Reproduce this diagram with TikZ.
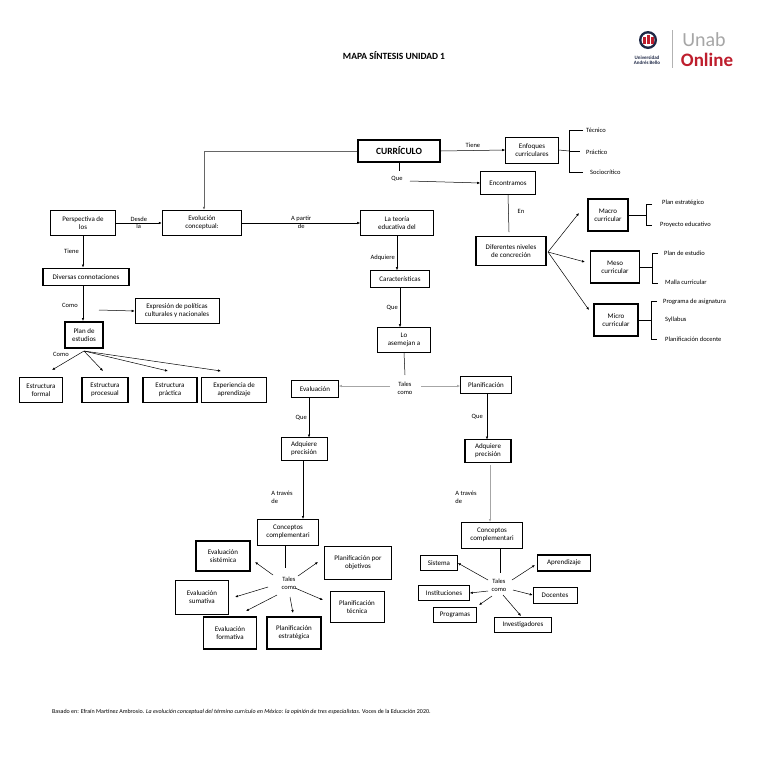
\documentclass[tikz,border=0pt]{standalone}
\usepackage{fontspec}
\setmainfont{Carlito}
\usetikzlibrary{arrows.meta}
\definecolor{unabred}{RGB}{190,30,45}
\definecolor{unabnavy}{RGB}{30,40,70}
\begin{document}
\begin{tikzpicture}[x=1pt,y=-1pt,
  bx/.style={draw,line width=0.6pt,align=center,font=\fontsize{7}{8}\selectfont,inner sep=1pt},
  tb/.style={bx,line width=1.4pt},
  lb/.style={align=center,font=\fontsize{6.5}{8}\selectfont,inner sep=0pt},
  wl/.style={lb,anchor=west},
  ar/.style={-{Latex[length=3pt,width=2.5pt]},line width=0.5pt},
  gar/.style={ar,draw=gray!70,line width=1pt},
  ln/.style={line width=0.5pt}]
\useasboundingbox (0,0) rectangle (768,756);
\fill[white] (0,0) rectangle (768,756);
\node[font=\bfseries\fontsize{9.5}{10}\selectfont] (title) at (394,56) {MAPA SÍNTESIS UNIDAD 1};
% logo
\fill[unabnavy] (648,40) circle (9pt);
\fill[white] (648,40) circle (6.5pt);
\fill[unabred] (643,37) rectangle (646,44);
\fill[unabred] (647,35) rectangle (650,44);
\fill[unabred] (651,37) rectangle (654,44);
\node[font=\bfseries\fontsize{5}{5}\selectfont,align=center,text=unabnavy,inner sep=0] (uni) at (647,60) {Universidad\\Andrés Bello};
\draw[gray!60,line width=0.6pt] (672,30) -- (672,68);
\node[font=\fontsize{20}{20}\selectfont,text=gray!70,inner sep=0] (unab) at (704,40) {Unab};
\node[font=\bfseries\fontsize{19}{19}\selectfont,text=unabred,inner sep=0] (online) at (707,60) {Online};
% top
\node[tb,minimum width=82pt,minimum height=22pt,font=\bfseries\fontsize{9.5}{10}\selectfont] (cur) at (399,151) {CURRÍCULO};
\node[bx,minimum width=53pt,minimum height=26pt] (enf) at (532,150) {Enfoques\\curriculares};
\draw[ar] (cur.east) -- node[lb,above=3pt]{Tiene} (enf.west);
\draw[ln] (enf.east) -- (569,151);
\draw[ln] (583,130) -- (569,130) -- (569,172) -- (583,172);
\draw[ln] (569,151) -- (580,151);
\node[wl] (tec) at (586,130) {Técnico};
\node[wl] (pra) at (586,152) {Práctico};
\node[wl] (soc) at (590,172) {Sociocrítico};
\node[bx,minimum width=55pt,minimum height=23pt] (enc) at (508,183) {Encontramos};
\draw[ln] (cur.south) -- (399,171);
\node[lb] (que1) at (397,179) {Que};
\coordinate (q1) at (410,181);
\draw[ar] (q1) -- (enc.west);
\node[tb,minimum width=70pt,minimum height=29pt] (dif) at (511,251) {Diferentes niveles\\de concreción};
\draw[ln] (enc.south) -- (509,232);
\node[lb] (en) at (521,211) {En};
\node[tb,minimum width=40pt,minimum height=32pt] (mac) at (608,215) {Macro\\curricular};
\node[tb,minimum width=49pt,minimum height=32pt] (mes) at (615,267) {Meso\\curricular};
\node[tb,minimum width=44pt,minimum height=32pt] (mic) at (616,320) {Micro\\curricular};
\coordinate (dh) at (548,252);
\draw[ar] (dh) -- (579,213);
\draw[ar] (dh) -- (585,262);
\draw[ar] (dh) -- (589,310);
\draw[ln] (mac.east) -- (646,215); \draw[ln] (652,204) -- (646,204) -- (646,225) -- (652,225);
\node[wl] (m1) at (662,203) {Plan estratégico};
\node[wl] (m2) at (660,225) {Proyecto educativo};
\draw[ln] (mes.east) -- (652,267); \draw[ln] (658,253) -- (652,253) -- (652,283) -- (658,283);
\node[wl] (m3) at (664,253) {Plan de estudio};
\node[wl] (m4) at (665,282) {Malla curricular};
\draw[ln] (mic.east) -- (651,320); \draw[ln] (657,301) -- (651,301) -- (651,339) -- (657,339);
\node[wl] (m5) at (663,302) {Programa de asignatura};
\node[wl] (m6) at (665,320) {Syllabus};
\node[wl] (m7) at (665,339) {Planificación docente};
% middle
\node[tb,minimum width=79pt,minimum height=25pt] (evo) at (202,223) {Evolución\\conceptual:};
\node[bx,minimum width=65pt,minimum height=25pt] (per) at (83,223) {Perspectiva de\\los};
\node[bx,minimum width=73pt,minimum height=25pt] (teo) at (397,223) {La teoría\\educativa del};
\draw[ar,draw=gray!80!black] (cur.west) -- (204,151) -- (evo.north -| 204,0);
\draw[ar] (per.east) -- node[lb,above=1pt]{Desde} node[lb,below=1pt]{la} (evo.west);
\draw[ar] (evo.east) -- node[lb,above=1pt]{A partir} node[lb,below=1pt]{de} (teo.west);
\node[bx,minimum width=59pt,minimum height=17pt] (car) at (400,279) {Características};
\draw[ar] (teo.south) -- node[lb,left=2pt,pos=0.65]{Adquiere} (car.north -| teo.south);
\node[bx,minimum width=53pt,minimum height=25pt] (ase) at (404,340) {Lo\\asemejan a};
\draw[ar] (car.south) -- node[lb,left=2pt]{Que} (ase.north -| car.south);
\node[lb] (tc) at (405,388) {Tales\\como};
\draw[ln] (ase.south) -- (405,375);
\node[bx,minimum width=47pt,minimum height=17pt] (eva) at (315,389) {Evaluación};
\node[bx,minimum width=51pt,minimum height=17pt] (pla) at (486,385) {Planificación};
\coordinate (tcl) at (390,386); \coordinate (tcr) at (421,386);
\draw[gar] (tcl) -- (eva.east |- tcl);
\draw[gar] (tcr) -- (pla.west |- tcr);
\node[bx,minimum width=46pt,minimum height=23pt] (ape) at (304,449) {Adquiere\\precisión};
\node[tb,minimum width=46pt,minimum height=23pt] (apl) at (488,451) {Adquiere\\precisión};
\draw[ar] (309,397.5) -- node[lb,left=2pt]{Que} (309,437.5);
\draw[ar] (487,393.5) -- node[lb,left=4pt]{Que} (487,439.5);
\node[bx,minimum width=61pt,minimum height=26pt] (ccl) at (288,532) {Conceptos\\complementari};
\node[bx,minimum width=61pt,minimum height=26pt] (ccr) at (492,535) {Conceptos\\complementari};
\draw[ar] (303,460.5) -- (303,519);
\node[lb,align=left] (atl) at (282,497) {A través\\de};
\draw[gar] (490,465) -- (490,522);
\node[lb,align=left] (atr) at (466,497) {A través\\de};
% left hub
\draw[ln] (285,545) -- (285,568);
\node[lb] (tcl2) at (289,583) {Tales\\como};
\node[tb,minimum width=54pt,minimum height=30pt] (es) at (223,556) {Evaluación\\sistémica};
\node[bx,minimum width=67pt,minimum height=33pt] (po) at (358,563) {Planificación por\\objetivos};
\node[bx,minimum width=53pt,minimum height=34pt] (esu) at (202,597) {Evaluación\\sumativa};
\node[bx,minimum width=54pt,minimum height=31pt] (pt) at (357,607) {Planificación\\técnica};
\node[tb,minimum width=53pt,minimum height=32pt] (ef) at (230,633) {Evaluación\\formativa};
\node[tb,minimum width=54pt,minimum height=32pt] (pe) at (294,633) {Planificación\\estratégica};
\draw[ar] (273,575) -- (255,562);
\draw[ar] (298,576) -- (318,562);
\draw[ar] (268,587) -- (235,597);
\draw[ar] (295,588) -- (323,600);
\draw[ar] (277,595) -- (246,611);
\draw[ar] (290,597) -- (293,613);
% right hub
\draw[ln] (500,548) -- (500,573);
\node[lb] (tcr2) at (499,585) {Tales\\como};
\node[bx,minimum width=37pt,minimum height=15pt] (sis) at (439,563) {Sistema};
\node[bx,minimum width=51pt,minimum height=15pt] (ins) at (444,593) {Instituciones};
\node[tb,minimum width=43pt,minimum height=15pt] (pro) at (455,615) {Programas};
\node[tb,minimum width=57pt,minimum height=15pt] (inv) at (523,625) {Investigadores};
\node[bx,minimum width=44pt,minimum height=16pt] (doc) at (555,595) {Docentes};
\node[tb,minimum width=53pt,minimum height=16pt] (apr) at (564,563) {Aprendizaje};
\draw[ar] (488,580) -- (sis.east);
\draw[ar] (488,591) -- (ins.east);
\draw[ar] (492,596) -- (479,605);
\draw[ar] (503,595) -- (521,616);
\draw[ar] (513,590) -- (doc.west);
\draw[ar] (512,580) -- (535,565);
% left column
\node[tb,minimum width=86pt,minimum height=17pt] (div) at (86,277) {Diversas connotaciones};
\draw[ar] (per.south) -- node[lb,left=4pt]{Tiene} (83,267.5);
\node[bx,minimum width=84pt,minimum height=25pt] (exp) at (177,311) {Expresión de políticas\\culturales y nacionales};
\node[tb,minimum width=38pt,minimum height=26pt] (pl) at (84,335) {Plan de\\estudios};
\draw[ar] (83,286) -- (83,321);
\node[lb] (como1) at (70,305) {Como};
\coordinate (ce) at (99,310);
\draw[ar] (ce) -- (exp.west);
\node[tb,minimum width=43pt,minimum height=25pt] (ef1) at (41,390) {Estructura\\formal};
\node[tb,minimum width=46pt,minimum height=25pt] (ep1) at (105,390) {Estructura\\procesual};
\node[tb,minimum width=54pt,minimum height=25pt] (epr) at (170,390) {Estructura\\práctica};
\node[tb,minimum width=65pt,minimum height=25pt] (exa) at (234,390) {Experiencia de\\aprendizaje};
\node[lb] (como2) at (61,354) {Como};
\coordinate (ph) at (84,351);
\draw[ar] (ph) -- (52,370);
\draw[ar] (ph) -- (103,371);
\draw[ar] (ph) -- (168,371);
\draw[ar] (ph) -- (221,371);
\node[anchor=west,font=\fontsize{6}{7}\selectfont,inner sep=0] (foot) at (52,712) {Basado en: Efraín Martínez Ambrosio. \textit{La evolución conceptual del término currículo en México}: \textit{la opinión de tres especialistas}. Voces de la Educación 2020.};
\end{tikzpicture}
\end{document}
